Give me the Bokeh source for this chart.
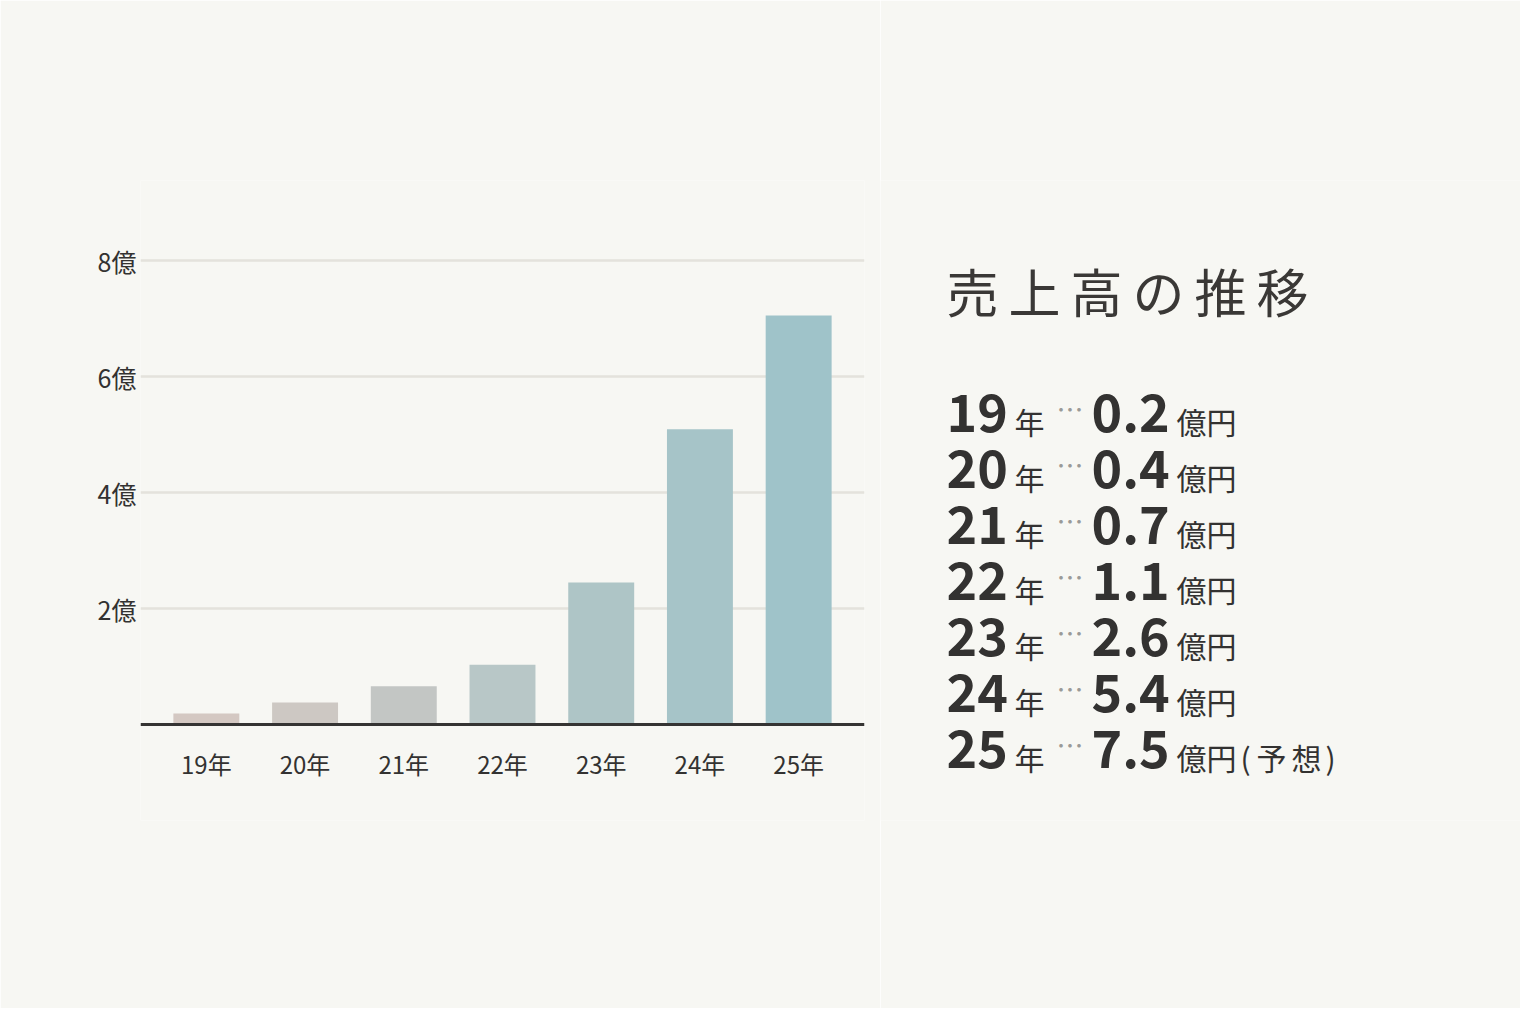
from bokeh.plotting import figure
from bokeh.layouts import row
from bokeh.models import Range1d, FixedTicker, ColumnDataSource
from bokeh.core.properties import value
from bokeh.embed import file_html
from bokeh.resources import INLINE

# ---- data ----
categories = ["19年", "20年", "21年", "22年", "23年", "24年", "25年"]
bar_values = [0.19, 0.38, 0.66, 1.03, 2.45, 5.09, 7.05]
bar_colors = ["#d4c8c2", "#cdc8c3", "#c3c6c4", "#b8c7c7", "#aec5c6", "#a6c4c8", "#9fc3c9"]
ytick_values = [2, 4, 6, 8]
ytick_labels = ["2億", "4億", "6億", "8億"]
title_text = "売上高の推移"
list_years = ["19", "20", "21", "22", "23", "24", "25"]
list_values = ["0.2", "0.4", "0.7", "1.1", "2.6", "5.4", "7.5"]
list_units = ["億円", "億円", "億円", "億円", "億円", "億円", "億円"]
list_notes = ["", "", "", "", "", "", "(予想)"]

BG = "#f7f7f3"
TXT = "#333231"
FONT = "Noto Sans CJK JP"

H = 1008
W1, W2 = 880, 640
FL, FR = 140, 864            # chart frame, horizontal (page px)
TOP, BOT = 180, 820          # shared frame top / bottom (page px)
ZERO = 724                   # page y of value 0
PXU = 58.0                   # pixels per unit (億)
X0, X1 = -0.667, 6.667

p = figure(width=W1, height=H,
           x_range=Range1d(X0, X1),
           y_range=Range1d(-(BOT - ZERO) / PXU, (ZERO - TOP) / PXU),
           output_backend="svg", toolbar_location=None,
           min_border_left=FL, min_border_right=W1 - FR,
           min_border_top=TOP, min_border_bottom=H - BOT,
           background_fill_color=BG, border_fill_color=BG,
           outline_line_color=None)

src = ColumnDataSource(dict(x=list(range(len(categories))), top=bar_values, color=bar_colors))
p.vbar(x="x", top="top", bottom=0, width=0.668, fill_color="color", line_color=None, source=src)

p.xaxis.fixed_location = 0
p.xaxis.ticker = FixedTicker(ticks=list(range(len(categories))))
p.xaxis.major_label_overrides = {i: c for i, c in enumerate(categories)}
p.xaxis.axis_line_color = "#353433"
p.xaxis.axis_line_width = 3
p.xaxis.major_tick_line_color = None
p.xaxis.minor_tick_line_color = None
p.xaxis.major_label_standoff = 15
p.xaxis.major_label_text_font = FONT
p.xaxis.major_label_text_font_size = "24px"
p.xaxis.major_label_text_color = TXT

p.yaxis.ticker = FixedTicker(ticks=ytick_values)
p.yaxis.major_label_overrides = {v: l for v, l in zip(ytick_values, ytick_labels)}
p.yaxis.axis_line_color = None
p.yaxis.major_tick_line_color = None
p.yaxis.minor_tick_line_color = None
p.yaxis.major_label_standoff = -2
p.yaxis.major_label_text_font = FONT
p.yaxis.major_label_text_font_size = "25px"
p.yaxis.major_label_text_color = TXT

p.xgrid.visible = False
p.ygrid.grid_line_color = "#e4e2dc"
p.ygrid.grid_line_width = 2.5

# ---- right-hand text panel: data units equal page pixels ----
q = figure(width=W2, height=H,
           x_range=Range1d(W1, W1 + W2), y_range=Range1d(BOT, TOP),
           x_axis_type=None, y_axis_type=None,
           output_backend="svg", toolbar_location=None,
           min_border_left=0, min_border_right=0,
           min_border_top=TOP, min_border_bottom=H - BOT,
           background_fill_color=BG, border_fill_color=BG,
           outline_line_color=None)
q.grid.visible = False


def add_text(xs, ys, texts, size, color=TXT, style="normal"):
    q.text(x=xs, y=ys, text=texts, text_font=value(FONT), text_font_size=size,
           text_color=color, text_font_style=style, text_align="left",
           text_baseline="middle")


chars = list(title_text)
add_text([946 + i * 62 for i in range(len(chars))], [290] * len(chars), chars,
         "52px", color="#3a3836")

n = len(list_years)
rows_y = [56 * i for i in range(n)]
add_text([946] * n, [412 + r for r in rows_y], list_years, "52px", style="bold")
add_text([1014] * n, [420 + r for r in rows_y], ["年"] * n, "30px")
add_text([1056] * n, [408 + r for r in rows_y], ["…"] * n, "27px", color="#9a9a98")
add_text([1091] * n, [412 + r for r in rows_y], list_values, "52px", style="bold")
add_text([1176] * n, [420 + r for r in rows_y], list_units, "30px")

# the note "(予想)" is set with wide letter spacing, one glyph at a time
note_offsets = [0, 16, 51, 85]
nx, ny, nt = [], [], []
for i, note in enumerate(list_notes):
    for k, ch in enumerate(note):
        nx.append(1240 + note_offsets[k])
        ny.append(420 + rows_y[i])
        nt.append(ch)
add_text(nx, ny, nt, "30px")

layout = row(p, q)
open("out.html", "w").write(file_html(layout, INLINE))
